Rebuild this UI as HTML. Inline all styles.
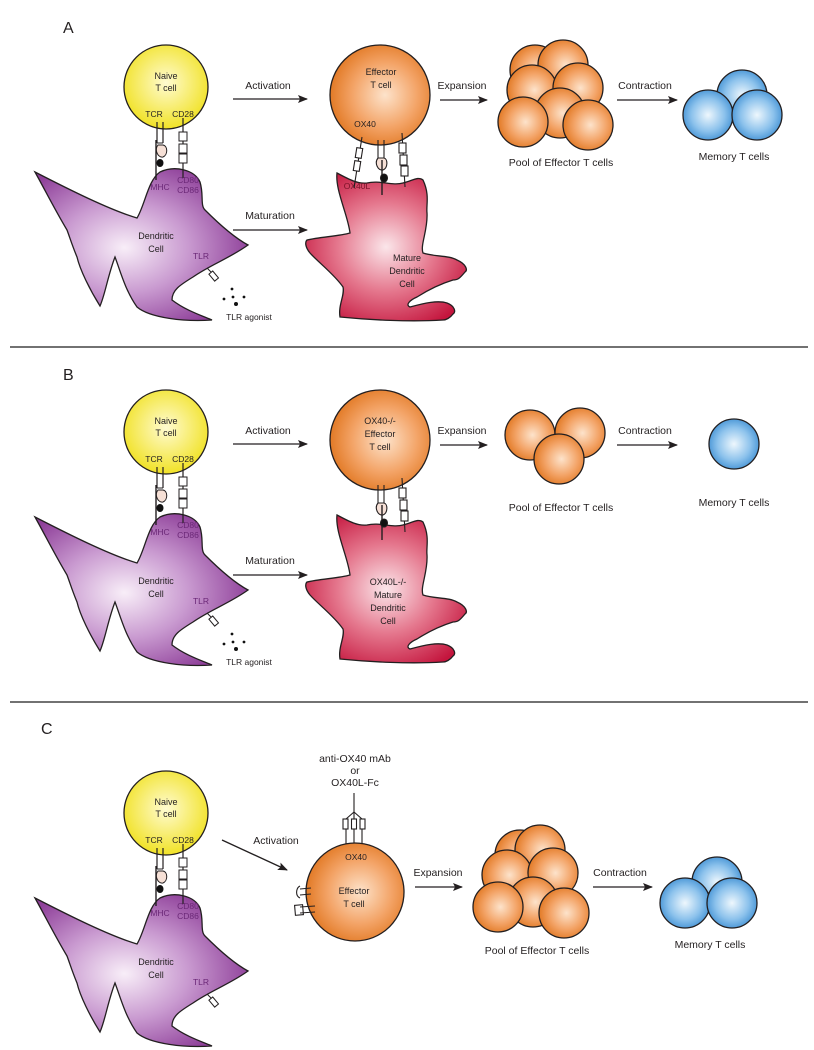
<!DOCTYPE html>
<html><head><meta charset="utf-8"><style>
html,body{margin:0;padding:0;background:#fff;}
svg{display:block;font-family:"Liberation Sans",sans-serif;}
</style></head><body>
<svg width="814" height="1050" viewBox="0 0 814 1050" xmlns="http://www.w3.org/2000/svg">
<defs>
<radialGradient id="gy" cx="0.5" cy="0.45" r="0.55"><stop offset="0" stop-color="#fffbd0"/><stop offset="1" stop-color="#f1e227"/></radialGradient>
<radialGradient id="go" cx="0.55" cy="0.5" r="0.55"><stop offset="0" stop-color="#fde3cb"/><stop offset="0.6" stop-color="#f3a366"/><stop offset="1" stop-color="#e27a26"/></radialGradient>
<radialGradient id="gb" cx="0.5" cy="0.5" r="0.55"><stop offset="0" stop-color="#eef7fd"/><stop offset="0.6" stop-color="#8cc2ec"/><stop offset="1" stop-color="#3f8fd3"/></radialGradient>
<radialGradient id="gp" cx="0.42" cy="0.52" r="0.6"><stop offset="0" stop-color="#f8eef8"/><stop offset="0.5" stop-color="#c99ad0"/><stop offset="1" stop-color="#8e3f99"/></radialGradient>
<radialGradient id="gr" cx="0.5" cy="0.5" r="0.6"><stop offset="0" stop-color="#fbe6ea"/><stop offset="0.5" stop-color="#e5788e"/><stop offset="1" stop-color="#c4153d"/></radialGradient>
<marker id="ar" markerWidth="10" markerHeight="8" refX="9" refY="4" orient="auto" markerUnits="userSpaceOnUse"><path d="M0,0 L10,4 L0,8 L2,4 Z" fill="#231f20"/></marker>
<g id="dc">
<path d="M35,172 C70,190 110,210 137,218 C145,205 148,180 160,172 C175,165 195,170 200,182 C204,195 200,205 205,210 C220,225 235,238 248,245 C230,258 210,265 193,277 C180,285 172,290 172,300 C185,310 200,315 212,320 C185,322 150,318 137,307 C125,290 120,270 115,257 C108,275 105,295 100,306 C90,290 80,270 77,257 C72,245 70,238 67,230 C55,210 45,190 35,172 Z" fill="url(#gp)" stroke="#231f20" stroke-width="1.3"/>
</g>
<g id="rdc">
<path d="M337,173 C350,180 358,184 367,183 C380,180 392,186 403,183 C412,181 418,176 423,180 C430,195 426,205 427,213 C428,230 420,245 423,253 C435,257 448,255 457,260 C466,264 468,270 465,272 C460,278 458,280 453,280 C440,284 428,290 417,297 C410,300 405,305 410,307 C425,303 438,300 447,303 C455,306 456,312 453,314 C450,318 446,320 443,320 C410,322 370,320 340,317 C338,305 345,295 343,287 C335,275 318,262 310,253 C305,247 305,242 307,240 C320,237 340,236 350,233 C348,215 335,190 337,173 Z" fill="url(#gr)" stroke="#231f20" stroke-width="1.3"/>
</g>
<g id="tcr">
<line x1="157" y1="122" x2="157" y2="143" stroke="#231f20" stroke-width="1.2"/>
<line x1="163" y1="122" x2="163" y2="143" stroke="#231f20" stroke-width="1.2"/>
<path d="M157,143 L163,143" stroke="#231f20"/>
<path d="M158,145 C154,150 158,158 163,157 C168,155 168,146 163,145 Z" fill="#f6e0d6" stroke="#231f20" stroke-width="1"/>
<line x1="156" y1="140" x2="156" y2="180" stroke="#231f20" stroke-width="1.4"/>
<ellipse cx="160" cy="163" rx="3.5" ry="4" fill="#111"/>
<line x1="183" y1="118" x2="183" y2="178" stroke="#231f20" stroke-width="1.2"/>
<rect x="179" y="132" width="8" height="9" fill="#fff" stroke="#231f20" stroke-width="1"/>
<rect x="179" y="144" width="8" height="9" fill="#fff" stroke="#231f20" stroke-width="1"/>
<rect x="179" y="154" width="8" height="9" fill="#fff" stroke="#231f20" stroke-width="1"/>
</g>
<g id="ball"><circle r="25" fill="url(#go)" stroke="#231f20" stroke-width="1.3"/></g>
<g id="bball"><circle r="25" fill="url(#gb)" stroke="#231f20" stroke-width="1.3"/></g>
</defs>

<g font-size="10.5" fill="#231f20" text-anchor="middle">
<!-- ========== A ========== -->
<text x="63" y="33" font-size="16" text-anchor="start">A</text>
<use href="#dc"/>
<circle cx="166" cy="87" r="42" fill="url(#gy)" stroke="#231f20" stroke-width="1.3"/>
<use href="#tcr"/>
<text x="166" y="79" font-size="9">Naive</text><text x="166" y="91" font-size="9">T cell</text>
<text x="154" y="117" font-size="8.5">TCR</text><text x="183" y="117" font-size="8.5">CD28</text>
<text x="160" y="190" font-size="8.5" fill="#6b2877">MHC</text>
<text x="188" y="183" font-size="8.5" fill="#6b2877">CD80</text><text x="188" y="193" font-size="8.5" fill="#6b2877">CD86</text>
<text x="156" y="239" font-size="9">Dendritic</text><text x="156" y="252" font-size="9">Cell</text>
<text x="201" y="259" font-size="8.5" fill="#6b2877">TLR</text>
<g stroke="#231f20" stroke-width="1"><line x1="207" y1="268" x2="215" y2="276"/><rect x="211" y="272" width="5" height="9" fill="#fff" transform="rotate(-40 213 276)"/></g>
<g fill="#111"><circle cx="232" cy="289" r="1.4"/><circle cx="224" cy="299" r="1.4"/><circle cx="233" cy="297" r="1.4"/><circle cx="244" cy="297" r="1.4"/><circle cx="236" cy="304" r="2"/></g>
<text x="249" y="320" font-size="8.5">TLR agonist</text>

<line x1="233" y1="99" x2="307" y2="99" stroke="#231f20" stroke-width="1.3" marker-end="url(#ar)"/>
<text x="268" y="89">Activation</text>
<line x1="233" y1="230" x2="307" y2="230" stroke="#231f20" stroke-width="1.3" marker-end="url(#ar)"/>
<text x="270" y="219">Maturation</text>

<use href="#rdc"/>
<circle cx="380" cy="95" r="50" fill="url(#go)" stroke="#231f20" stroke-width="1.3"/>
<text x="381" y="75" font-size="9">Effector</text><text x="381" y="88" font-size="9">T cell</text>
<text x="365" y="127" font-size="8.5">OX40</text>
<text x="357" y="189" font-size="8.5" fill="#7a1228">OX40L</text>
<g stroke="#231f20" stroke-width="1.1" fill="#fff">
<line x1="362" y1="137" x2="354" y2="188"/>
<rect x="356" y="148" width="6" height="10" transform="rotate(9 359 153)"/>
<rect x="354" y="161" width="6" height="10" transform="rotate(9 357 166)"/>
<line x1="378" y1="140" x2="378" y2="158"/><line x1="384" y1="140" x2="384" y2="158"/>
<path d="M378,158 C374,163 378,171 383,170 C388,168 388,159 384,158 Z" fill="#f6e0d6"/>
<line x1="382" y1="160" x2="382" y2="195" stroke-width="1.4"/>
<ellipse cx="384" cy="178" rx="3.5" ry="4" fill="#111"/>
<line x1="402" y1="133" x2="405" y2="187"/>
<rect x="399" y="143" width="7" height="10"/><rect x="400" y="155" width="7" height="10"/><rect x="401" y="166" width="7" height="10"/>
</g>
<text x="407" y="261" font-size="9">Mature</text><text x="407" y="274" font-size="9">Dendritic</text><text x="407" y="287" font-size="9">Cell</text>

<line x1="440" y1="100" x2="487" y2="100" stroke="#231f20" stroke-width="1.3" marker-end="url(#ar)"/>
<text x="462" y="89">Expansion</text>
<use href="#ball" x="535" y="70"/><use href="#ball" x="563" y="65"/><use href="#ball" x="532" y="90"/><use href="#ball" x="578" y="88"/><use href="#ball" x="560" y="113"/><use href="#ball" x="523" y="122"/><use href="#ball" x="588" y="125"/>
<text x="561" y="166">Pool of Effector T cells</text>
<line x1="617" y1="100" x2="677" y2="100" stroke="#231f20" stroke-width="1.3" marker-end="url(#ar)"/>
<text x="645" y="89">Contraction</text>
<use href="#bball" x="742" y="95"/><use href="#bball" x="708" y="115"/><use href="#bball" x="757" y="115"/>
<text x="734" y="160">Memory T cells</text>

<line x1="10" y1="347" x2="808" y2="347" stroke="#444" stroke-width="1.5"/>

<!-- ========== B ========== -->
<text x="63" y="380" font-size="16" text-anchor="start">B</text>
<g transform="translate(0,345)">
<use href="#dc"/>
<circle cx="166" cy="87" r="42" fill="url(#gy)" stroke="#231f20" stroke-width="1.3"/>
<use href="#tcr"/>
<text x="166" y="79" font-size="9">Naive</text><text x="166" y="91" font-size="9">T cell</text>
<text x="154" y="117" font-size="8.5">TCR</text><text x="183" y="117" font-size="8.5">CD28</text>
<text x="160" y="190" font-size="8.5" fill="#6b2877">MHC</text>
<text x="188" y="183" font-size="8.5" fill="#6b2877">CD80</text><text x="188" y="193" font-size="8.5" fill="#6b2877">CD86</text>
<text x="156" y="239" font-size="9">Dendritic</text><text x="156" y="252" font-size="9">Cell</text>
<text x="201" y="259" font-size="8.5" fill="#6b2877">TLR</text>
<g stroke="#231f20" stroke-width="1"><line x1="207" y1="268" x2="215" y2="276"/><rect x="211" y="272" width="5" height="9" fill="#fff" transform="rotate(-40 213 276)"/></g>
<g fill="#111"><circle cx="232" cy="289" r="1.4"/><circle cx="224" cy="299" r="1.4"/><circle cx="233" cy="297" r="1.4"/><circle cx="244" cy="297" r="1.4"/><circle cx="236" cy="304" r="2"/></g>
<text x="249" y="320" font-size="8.5">TLR agonist</text>
<line x1="233" y1="99" x2="307" y2="99" stroke="#231f20" stroke-width="1.3" marker-end="url(#ar)"/>
<text x="268" y="89">Activation</text>
<line x1="233" y1="230" x2="307" y2="230" stroke="#231f20" stroke-width="1.3" marker-end="url(#ar)"/>
<text x="270" y="219">Maturation</text>
<use href="#rdc" y="-3"/>
<circle cx="380" cy="95" r="50" fill="url(#go)" stroke="#231f20" stroke-width="1.3"/>
<text x="380" y="79" font-size="9">OX40-/-</text><text x="380" y="92" font-size="9">Effector</text><text x="380" y="105" font-size="9">T cell</text>
<g stroke="#231f20" stroke-width="1.1" fill="#fff">
<line x1="378" y1="140" x2="378" y2="158"/><line x1="384" y1="140" x2="384" y2="158"/>
<path d="M378,158 C374,163 378,171 383,170 C388,168 388,159 384,158 Z" fill="#f6e0d6"/>
<line x1="382" y1="160" x2="382" y2="195" stroke-width="1.4"/>
<ellipse cx="384" cy="178" rx="3.5" ry="4" fill="#111"/>
<line x1="402" y1="133" x2="405" y2="187"/>
<rect x="399" y="143" width="7" height="10"/><rect x="400" y="155" width="7" height="10"/><rect x="401" y="166" width="7" height="10"/>
</g>
<text x="388" y="240" font-size="9">OX40L-/-</text><text x="388" y="253" font-size="9">Mature</text><text x="388" y="266" font-size="9">Dendritic</text><text x="388" y="279" font-size="9">Cell</text>
<line x1="440" y1="100" x2="487" y2="100" stroke="#231f20" stroke-width="1.3" marker-end="url(#ar)"/>
<text x="462" y="89">Expansion</text>
<use href="#ball" x="530" y="90"/><use href="#ball" x="580" y="88"/><use href="#ball" x="559" y="114"/>
<text x="561" y="166">Pool of Effector T cells</text>
<line x1="617" y1="100" x2="677" y2="100" stroke="#231f20" stroke-width="1.3" marker-end="url(#ar)"/>
<text x="645" y="89">Contraction</text>
<use href="#bball" x="734" y="99"/>
<text x="734" y="161">Memory T cells</text>
</g>

<line x1="10" y1="702" x2="808" y2="702" stroke="#444" stroke-width="1.5"/>

<!-- ========== C ========== -->
<text x="41" y="734" font-size="16" text-anchor="start">C</text>
<g transform="translate(0,726)">
<use href="#dc"/>
<circle cx="166" cy="87" r="42" fill="url(#gy)" stroke="#231f20" stroke-width="1.3"/>
<use href="#tcr"/>
<text x="166" y="79" font-size="9">Naive</text><text x="166" y="91" font-size="9">T cell</text>
<text x="154" y="117" font-size="8.5">TCR</text><text x="183" y="117" font-size="8.5">CD28</text>
<text x="160" y="190" font-size="8.5" fill="#6b2877">MHC</text>
<text x="188" y="183" font-size="8.5" fill="#6b2877">CD80</text><text x="188" y="193" font-size="8.5" fill="#6b2877">CD86</text>
<text x="156" y="239" font-size="9">Dendritic</text><text x="156" y="252" font-size="9">Cell</text>
<text x="201" y="259" font-size="8.5" fill="#6b2877">TLR</text>
<g stroke="#231f20" stroke-width="1"><line x1="207" y1="268" x2="215" y2="276"/><rect x="211" y="272" width="5" height="9" fill="#fff" transform="rotate(-40 213 276)"/></g>
</g>
<line x1="222" y1="840" x2="287" y2="870" stroke="#231f20" stroke-width="1.3" marker-end="url(#ar)"/>
<text x="276" y="844">Activation</text>
<text x="355" y="762">anti-OX40 mAb</text><text x="355" y="774">or</text><text x="355" y="786">OX40L-Fc</text>
<g stroke="#231f20" stroke-width="1.1" fill="#fff">
<line x1="354" y1="793" x2="354" y2="812"/>
<path d="M354,812 L346,819 M354,812 L362,819 M354,812 L354,819"/>
<rect x="343" y="819" width="5" height="10"/><rect x="351.5" y="819" width="5" height="10"/><rect x="360" y="819" width="5" height="10"/>
<line x1="346" y1="829" x2="346" y2="845"/><line x1="354" y1="829" x2="354" y2="844"/><line x1="362" y1="829" x2="362" y2="845"/>
</g>
<circle cx="355" cy="892" r="49" fill="url(#go)" stroke="#231f20" stroke-width="1.3"/>
<text x="356" y="860" font-size="8.5">OX40</text>
<text x="354" y="894" font-size="9">Effector</text><text x="354" y="907" font-size="9">T cell</text>
<g stroke="#231f20" stroke-width="1.1" fill="#fff">
<line x1="300" y1="889" x2="311" y2="888"/><line x1="300" y1="895" x2="311" y2="894"/>
<path d="M300,886 C296,888 295,896 300,898" fill="none"/>
<rect x="295" y="905" width="8" height="10" transform="rotate(-5 299 910)"/>
<line x1="300" y1="907" x2="315" y2="906"/><line x1="300" y1="913" x2="315" y2="912"/>
</g>
<line x1="415" y1="887" x2="462" y2="887" stroke="#231f20" stroke-width="1.3" marker-end="url(#ar)"/>
<text x="438" y="876">Expansion</text>
<use href="#ball" x="520" y="855"/><use href="#ball" x="540" y="850"/><use href="#ball" x="507" y="875"/><use href="#ball" x="553" y="873"/><use href="#ball" x="533" y="902"/><use href="#ball" x="498" y="907"/><use href="#ball" x="564" y="913"/>
<text x="537" y="954">Pool of Effector T cells</text>
<line x1="593" y1="887" x2="652" y2="887" stroke="#231f20" stroke-width="1.3" marker-end="url(#ar)"/>
<text x="620" y="876">Contraction</text>
<use href="#bball" x="717" y="882"/><use href="#bball" x="685" y="903"/><use href="#bball" x="732" y="903"/>
<text x="710" y="948">Memory T cells</text>
</g>
</svg>
</body></html>
